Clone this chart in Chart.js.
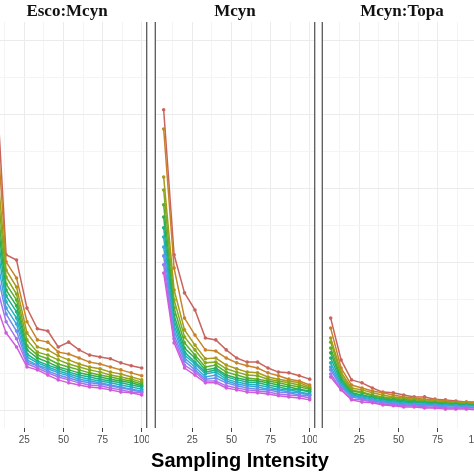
<!DOCTYPE html>
<html>
<head>
<meta charset="utf-8">
<script src="https://cdn.jsdelivr.net/npm/chart.js@4.4.1/dist/chart.umd.min.js"></script>
<style>
  html, body { margin: 0; padding: 0; background: #fff; }
  body { width: 474px; height: 474px; overflow: hidden; position: relative; }
  .panel { position: absolute; top: 0; }
  .strip { position: absolute; top: 1px; width: 164px; text-align: center;
           font: bold 17px "Liberation Serif", "Times New Roman", serif; line-height: 20px; color: #111; }
  #xtitle { position: absolute; left: 120px; width: 240px; top: 449px; text-align: center;
            font: bold 20px "Liberation Sans", Arial, sans-serif; line-height: 22px; color: #000; white-space: nowrap; }
</style>
</head>
<body>
<canvas id="p0" class="panel" width="164" height="474" style="left:-15px"></canvas>
<canvas id="p1" class="panel" width="164" height="474" style="left:153px"></canvas>
<canvas id="p2" class="panel" width="164" height="474" style="left:320px"></canvas>
<div class="strip" style="left:-15px">Esco:Mcyn</div>
<div class="strip" style="left:153px">Mcyn</div>
<div class="strip" style="left:320px">Mcyn:Topa</div>
<div id="xtitle">Sampling Intensity</div>
<script>
// sampling intensity values on the x axis
const intensity = [6.67, 13.33, 20, 26.67, 33.33, 40, 46.67, 53.33, 60, 66.67, 73.33, 80, 86.67, 93.33, 100];

const xMajor = [25, 50, 75, 100];
const xMinor = [12.5, 37.5, 62.5, 87.5];
const yMajor = [0, 20, 40, 60, 80, 100];
const yMinor = [10, 30, 50, 70, 90];

const seriesColors = [
  '#C8645E', '#C8822A', '#A89A1A', '#86A81E', '#5AAE2A', '#2EAE50',
  '#1FB088', '#22B2B8', '#3AA6E0', '#6C8EF0', '#A872EC', '#D45ADC'
];

// one row per series, top (red) to bottom (magenta)
const escoMcyn = [
  [91.9, 42.2, 40.8, 27.8, 22.2, 21.6, 17.3, 18.6, 16.5, 15.1, 14.6, 14.1, 13.0, 12.2, 11.6],
  [81.4, 40.3, 35.9, 24.1, 19.2, 18.6, 15.9, 15.4, 14.3, 13.2, 12.7, 11.9, 11.1, 10.3, 9.5],
  [70.5, 38.1, 33.5, 21.1, 17.3, 16.5, 14.9, 13.8, 12.7, 11.9, 11.4, 10.5, 10.0, 9.2, 8.4],
  [65.1, 36.2, 31.6, 19.2, 15.9, 15.1, 13.8, 12.7, 11.9, 11.1, 10.5, 9.7, 9.2, 8.6, 7.8],
  [59.7, 34.3, 30.0, 17.6, 15.1, 14.1, 12.7, 11.9, 11.1, 10.3, 9.7, 9.2, 8.6, 8.1, 7.3],
  [55.7, 32.7, 28.4, 16.5, 14.3, 13.2, 11.9, 11.1, 10.3, 9.7, 9.2, 8.6, 8.1, 7.6, 6.8],
  [51.6, 31.1, 26.8, 15.4, 13.5, 12.4, 11.4, 10.5, 9.7, 9.2, 8.6, 8.1, 7.6, 7.0, 6.5],
  [47.6, 29.5, 25.1, 14.6, 13.0, 11.9, 10.8, 10.0, 9.2, 8.6, 8.1, 7.6, 7.0, 6.5, 5.9],
  [43.5, 27.8, 23.5, 13.8, 12.4, 11.4, 10.3, 9.5, 8.6, 8.1, 7.6, 7.0, 6.5, 5.9, 5.4],
  [39.5, 26.2, 21.6, 13.2, 12.2, 10.8, 9.7, 8.9, 8.1, 7.6, 7.3, 6.8, 6.2, 5.7, 5.1],
  [34.9, 24.1, 19.5, 12.7, 11.6, 10.3, 9.2, 8.4, 7.6, 7.0, 6.8, 6.2, 5.7, 5.1, 4.9],
  [29.2, 21.1, 17.3, 11.9, 11.1, 9.7, 8.4, 7.6, 7.0, 6.5, 6.2, 5.7, 5.1, 4.9, 4.3]
];

const mcyn = [
  [81.4, 42.2, 31.9, 27.3, 19.7, 19.2, 16.5, 14.3, 13.2, 13.2, 11.6, 10.5, 10.3, 9.5, 8.6],
  [76.2, 38.6, 25.1, 20.5, 16.5, 16.2, 14.3, 13.0, 12.2, 11.6, 10.3, 9.5, 8.6, 8.1, 7.0],
  [63.2, 32.7, 21.9, 17.8, 14.1, 14.3, 12.4, 11.4, 10.5, 10.3, 9.2, 8.6, 8.1, 7.6, 6.5],
  [59.7, 30.0, 20.0, 16.5, 13.0, 13.2, 11.4, 10.5, 9.7, 9.5, 8.6, 8.1, 7.6, 7.0, 6.2],
  [55.7, 27.8, 18.4, 15.1, 11.9, 12.4, 10.5, 9.7, 8.9, 8.6, 8.1, 7.6, 7.0, 6.5, 5.9],
  [52.4, 25.9, 17.0, 14.3, 11.1, 11.6, 9.7, 8.9, 8.4, 8.1, 7.6, 7.0, 6.5, 5.9, 5.4],
  [49.5, 24.6, 15.9, 13.2, 10.5, 11.1, 9.2, 8.4, 7.8, 7.6, 7.0, 6.5, 5.9, 5.7, 5.1],
  [47.0, 23.2, 15.1, 12.7, 10.0, 10.5, 8.6, 7.8, 7.3, 7.0, 6.5, 5.9, 5.7, 5.1, 4.6],
  [44.3, 21.9, 14.3, 11.9, 9.2, 9.7, 8.1, 7.3, 6.8, 6.5, 5.9, 5.7, 5.1, 4.9, 4.3],
  [41.9, 20.5, 13.5, 11.1, 8.6, 8.9, 7.6, 6.8, 6.2, 5.9, 5.7, 5.1, 4.9, 4.3, 4.1],
  [39.5, 19.5, 12.4, 10.5, 8.1, 8.1, 6.8, 6.2, 5.7, 5.4, 5.1, 4.6, 4.3, 4.1, 3.5],
  [37.3, 18.4, 11.6, 9.7, 7.6, 7.6, 6.2, 5.7, 5.1, 4.9, 4.6, 4.1, 3.8, 3.5, 3.0]
];

const mcynTopa = [
  [25.1, 13.8, 8.4, 7.6, 6.2, 5.1, 4.9, 4.3, 3.8, 3.8, 3.2, 3.0, 2.7, 2.4, 2.4],
  [22.4, 11.6, 7.0, 6.2, 5.4, 4.9, 4.3, 3.8, 3.5, 3.2, 3.0, 2.7, 2.4, 2.4, 2.2],
  [19.7, 10.5, 6.2, 5.7, 4.9, 4.3, 3.8, 3.5, 3.2, 3.0, 2.7, 2.4, 2.2, 2.2, 1.9],
  [18.6, 9.7, 5.7, 5.1, 4.3, 3.8, 3.5, 3.2, 3.0, 2.7, 2.4, 2.2, 2.2, 1.9, 1.9],
  [17.0, 8.9, 5.4, 4.9, 4.1, 3.5, 3.2, 3.0, 2.7, 2.4, 2.2, 2.2, 1.9, 1.9, 1.6],
  [15.7, 8.4, 4.9, 4.3, 3.8, 3.2, 3.0, 2.7, 2.4, 2.2, 2.2, 1.9, 1.9, 1.6, 1.6],
  [14.3, 7.8, 4.6, 4.1, 3.5, 3.0, 2.7, 2.4, 2.2, 2.2, 1.9, 1.6, 1.6, 1.6, 1.4],
  [13.0, 7.3, 4.3, 3.8, 3.2, 2.7, 2.4, 2.2, 1.9, 1.9, 1.6, 1.6, 1.4, 1.4, 1.4],
  [11.9, 6.8, 4.1, 3.5, 3.0, 2.4, 2.2, 1.9, 1.9, 1.6, 1.6, 1.4, 1.4, 1.1, 1.1],
  [11.1, 6.5, 3.8, 3.2, 2.7, 2.2, 1.9, 1.6, 1.6, 1.4, 1.4, 1.1, 1.1, 1.1, 0.8],
  [10.0, 5.9, 3.2, 3.0, 2.4, 1.9, 1.6, 1.4, 1.4, 1.1, 1.1, 0.8, 0.8, 0.8, 0.8],
  [9.2, 5.7, 3.0, 2.4, 2.2, 1.6, 1.4, 1.1, 1.1, 0.8, 0.8, 0.5, 0.5, 0.5, 0.3]
];

// grey side rules on each facet (the reference shows no top/bottom rule)
const panelBorder = {
  id: 'panelBorder',
  afterDraw(chart) {
    const a = chart.chartArea;
    const c = chart.ctx;
    c.save();
    c.strokeStyle = '#5a5a5a';
    c.lineWidth = 1.3;
    c.beginPath();
    c.moveTo(a.left + 0.5, a.top);
    c.lineTo(a.left + 0.5, a.bottom);
    c.moveTo(a.right - 0.5, a.top);
    c.lineTo(a.right - 0.5, a.bottom);
    c.stroke();
    c.restore();
  }
};

function makePanel(id, rows) {
  const datasets = rows.map((vals, i) => ({
    label: 'level ' + (i + 1),
    data: vals.map((v, j) => ({ x: intensity[j], y: v })),
    borderColor: seriesColors[i],
    backgroundColor: seriesColors[i],
    borderWidth: 1.5,
    pointRadius: 1.8,
    pointBorderWidth: 0,
    pointHoverRadius: 0,
    tension: 0,
    order: rows.length - i
  }));

  return new Chart(document.getElementById(id), {
    type: 'line',
    data: { datasets: datasets },
    options: {
      responsive: false,
      animation: false,
      events: [],
      layout: { padding: { top: 22, left: 0, right: 0, bottom: 0 } },
      plugins: { legend: { display: false }, tooltip: { enabled: false } },
      scales: {
        x: {
          type: 'linear',
          min: 1,
          max: 103.5,
          afterBuildTicks: s => {
            s.ticks = xMinor.concat(xMajor).sort((a, b) => a - b).map(v => ({ value: v }));
          },
          afterFit: s => { s.height = 46; s.paddingLeft = 0; s.paddingRight = 0; },
          border: { display: false },
          grid: {
            color: c => xMajor.includes(c.tick.value) ? '#ebebeb' : '#f4f4f4',
            lineWidth: 1,
            tickLength: 4,
            tickColor: c => xMajor.includes(c.tick.value) ? '#444' : 'rgba(0,0,0,0)'
          },
          ticks: {
            autoSkip: false,
            maxRotation: 0,
            padding: 2,
            color: '#4d4d4d',
            font: { family: 'Liberation Sans, Arial, sans-serif', size: 10 },
            callback: v => xMajor.includes(v) ? String(v) : ''
          }
        },
        y: {
          min: -4.6,
          max: 105.1,
          afterBuildTicks: s => {
            s.ticks = yMajor.concat(yMinor).sort((a, b) => a - b).map(v => ({ value: v }));
          },
          afterFit: s => { s.width = 0; },
          border: { display: false },
          ticks: { display: false },
          grid: {
            drawTicks: false,
            lineWidth: 1,
            color: c => yMajor.includes(c.tick.value) ? '#ebebeb' : '#f4f4f4'
          }
        }
      }
    },
    plugins: [panelBorder]
  });
}

makePanel('p0', escoMcyn);
makePanel('p1', mcyn);
makePanel('p2', mcynTopa);
</script>
</body>
</html>
